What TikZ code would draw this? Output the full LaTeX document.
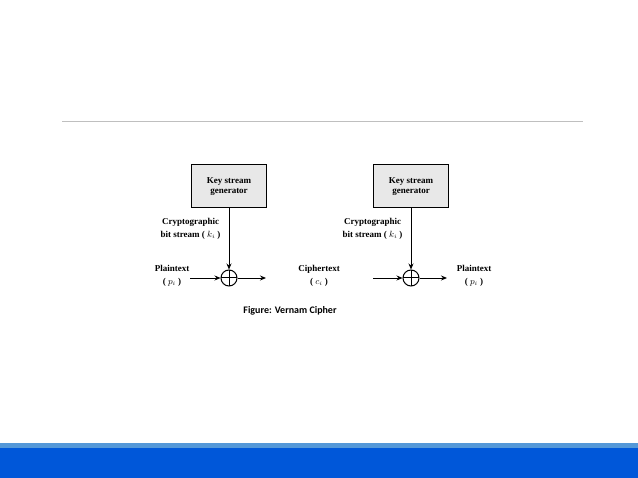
\documentclass[tikz,border=0pt]{standalone}
\usepackage{fontspec}
\setmainfont{Liberation Serif}
\newfontfamily\capfont{Carlito}
\usetikzlibrary{arrows.meta}
\begin{document}
\begin{tikzpicture}[x=1pt,y=-1pt,
  kbox/.style={draw,line width=1pt,fill=gray!18,minimum width=75pt,minimum height=43pt,font=\bfseries\fontsize{9}{10}\selectfont,align=center},
  lbl/.style={font=\bfseries\fontsize{9}{13}\selectfont,align=center},
  xorc/.style={draw,circle,line width=1pt,minimum size=16pt,inner sep=0pt,path picture={\draw[line width=1pt] (path picture bounding box.north)--(path picture bounding box.south) (path picture bounding box.west)--(path picture bounding box.east);}},
  arr/.style={line width=0.9pt,-{Stealth[length=6pt,width=5pt]}}]
\useasboundingbox (0,0) rectangle (638,478);
\fill[white] (0,0) rectangle (638,478);
\draw[gray!50,line width=0.6pt] (62,121) -- (583,121);
\fill[blue!60!cyan!85!black] (0,443) rectangle (638,478);
\fill[cyan!60!blue!70] (0,443) rectangle (638,448);
\node[kbox] (k1) at (229,186.5) {Key stream\\generator};
\node[kbox] (k2) at (411,186.5) {Key stream\\generator};
\node[xorc] (x1) at (229,278) {};
\node[xorc] (x2) at (411,278) {};
\node[lbl,anchor=east] (c1) at (224,229) {Cryptographic\\bit stream ( $k_i$ )};
\node[lbl,anchor=east] (c2) at (406,229) {Cryptographic\\bit stream ( $k_i$ )};
\node[lbl] (p1) at (172,276) {Plaintext\\( $p_i$ )};
\node[lbl] (ct) at (319,276) {Ciphertext\\( $c_i$ )};
\node[lbl] (p2) at (474,276) {Plaintext\\( $p_i$ )};
\coordinate (a1) at (190,278);
\coordinate (e1) at (266,278);
\coordinate (a2) at (373,278);
\coordinate (e2) at (447,278);
\draw[arr] (k1) -- (x1);
\draw[arr] (k2) -- (x2);
\draw[arr] (a1) -- (x1);
\draw[arr] (x1) -- (e1);
\draw[arr] (a2) -- (x2);
\draw[arr] (x2) -- (e2);
\node[font=\capfont\bfseries\fontsize{10}{12}\selectfont] (cap) at (290,311) {Figure: Vernam Cipher};
\end{tikzpicture}
\end{document}
